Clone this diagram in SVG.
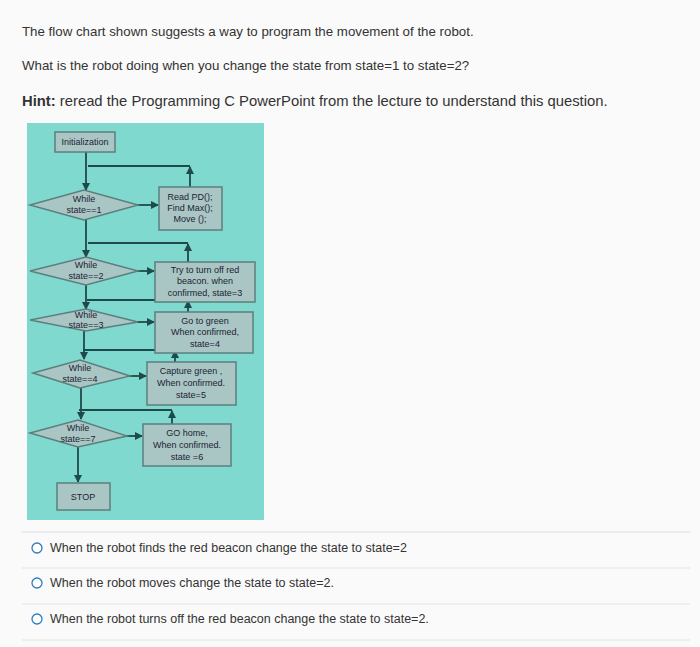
<svg xmlns="http://www.w3.org/2000/svg" width="700" height="647" viewBox="0 0 700 647">
<defs><marker id="a" markerWidth="8" markerHeight="8" refX="7" refY="4" orient="auto" markerUnits="userSpaceOnUse"><path d="M0,0 L8,4 L0,8 z" fill="#1f4a4a"/></marker></defs>
<style>
.t{font-family:"Liberation Sans",Arial,sans-serif;fill:#333}
.n{fill:#a9c6c4;stroke:#5c7f7e;stroke-width:1.5}
.s{font-family:"Liberation Sans",Arial,sans-serif;font-size:9px;fill:#223;text-anchor:middle}
.c{stroke:#1f4a4a;stroke-width:1.8;fill:none}
.r{fill:#fff;stroke:#2e7dbf;stroke-width:1.3}
</style>
<rect width="700" height="647" fill="#fafafa"/>
<text class="t" x="22" y="36" font-size="13.3">The flow chart shown suggests a way to program the movement of the robot.</text>
<text class="t" x="22" y="70" font-size="13.3">What is the robot doing when you change the state from state=1 to state=2?</text>
<text class="t" x="22" y="106" font-size="14.8"><tspan font-weight="bold">Hint:</tspan> reread the Programming C PowerPoint from the lecture to understand this question.</text>
<rect x="27" y="123" width="237" height="397" fill="#7fd9cf"/>
<g id="connectors">
<path class="c" d="M86,152 V190" marker-end="url(#a)"/>
<path class="c" d="M137,205 H158" marker-end="url(#a)"/>
<path class="c" d="M190,187 V167" marker-end="url(#a)"/>
<path class="c" d="M190,166 H88"/>
<path class="c" d="M86,220 V257" marker-end="url(#a)"/>
<path class="c" d="M136,271 H154" marker-end="url(#a)"/>
<path class="c" d="M188,262 V244" marker-end="url(#a)"/>
<path class="c" d="M188,243 H88"/>
<path class="c" d="M86,284 V309" marker-end="url(#a)"/>
<path class="c" d="M136,322 H154" marker-end="url(#a)"/>
<path class="c" d="M188,312 V301" marker-end="url(#a)"/>
<path class="c" d="M188,300 H87"/>
<path class="c" d="M84,331 V359" marker-end="url(#a)"/>
<path class="c" d="M128,376 H146" marker-end="url(#a)"/>
<path class="c" d="M175,362 V351" marker-end="url(#a)"/>
<path class="c" d="M175,350 H83"/>
<path class="c" d="M81,388 V419" marker-end="url(#a)"/>
<path class="c" d="M125,436 H142" marker-end="url(#a)"/>
<path class="c" d="M172,424 V411" marker-end="url(#a)"/>
<path class="c" d="M172,410 H79"/>
<path class="c" d="M78,447 V482" marker-end="url(#a)"/>
</g>
<g id="init"><rect class="n" x="55" y="132" width="60" height="20"/><text class="s" x="85" y="145">Initialization</text></g>
<g id="d1"><polygon class="n" points="30,205 84,190 138,205 84,220"/><text class="s" x="84" y="202">While</text><text class="s" x="84" y="213">state==1</text></g>
<g id="b1"><rect class="n" x="159" y="187" width="63" height="43"/><text class="s" x="190" y="200">Read PD();</text><text class="s" x="190" y="211">Find Max();</text><text class="s" x="190" y="222">Move ();</text></g>
<g id="d2"><polygon class="n" points="30,271 86,257 138,271 86,285"/><text class="s" x="86" y="268">While</text><text class="s" x="86" y="279">state==2</text></g>
<g id="b2"><rect class="n" x="155" y="262" width="100" height="40"/><text class="s" x="205" y="273">Try to turn off red</text><text class="s" x="205" y="284">beacon. when</text><text class="s" x="205" y="296">confirmed, state=3</text></g>
<g id="d3"><polygon class="n" points="30,320 86,309 138,322 86,331"/><text class="s" x="86" y="318">While</text><text class="s" x="86" y="328">state==3</text></g>
<g id="b3"><rect class="n" x="155" y="312" width="98" height="41"/><text class="s" x="205" y="324">Go to green</text><text class="s" x="205" y="335">When confirmed,</text><text class="s" x="205" y="347">state=4</text></g>
<g id="d4"><polygon class="n" points="33,373 80,360 130,376 80,388"/><text class="s" x="80" y="371">While</text><text class="s" x="80" y="382">state==4</text></g>
<g id="b4"><rect class="n" x="147" y="362" width="89" height="43"/><text class="s" x="191" y="374">Capture green ,</text><text class="s" x="191" y="386">When confirmed.</text><text class="s" x="191" y="398">state=5</text></g>
<g id="d5"><polygon class="n" points="30,433 78,420 127,436 78,447"/><text class="s" x="78" y="431">While</text><text class="s" x="78" y="442">state==7</text></g>
<g id="b5"><rect class="n" x="143" y="424" width="88" height="42"/><text class="s" x="187" y="436">GO home,</text><text class="s" x="187" y="448">When confirmed.</text><text class="s" x="187" y="460">state =6</text></g>
<g id="stop"><rect class="n" x="57" y="483" width="53" height="27"/><text class="s" x="83" y="500">STOP</text></g>
<line x1="22" y1="532" x2="690" y2="532" stroke="#ddd"/>
<circle class="r" cx="37" cy="548" r="5"/><text class="t" x="50" y="552" font-size="12.5">When the robot finds the red beacon change the state to state=2</text>
<line x1="22" y1="568" x2="690" y2="568" stroke="#e4e4e4"/>
<circle class="r" cx="37" cy="583" r="5"/><text class="t" x="50" y="587" font-size="12.5">When the robot moves change the state to state=2.</text>
<line x1="22" y1="604" x2="690" y2="604" stroke="#e4e4e4"/>
<circle class="r" cx="37" cy="619" r="5"/><text class="t" x="50" y="623" font-size="12.5">When the robot turns off the red beacon change the state to state=2.</text>
<line x1="22" y1="640" x2="690" y2="640" stroke="#e4e4e4"/>
</svg>
